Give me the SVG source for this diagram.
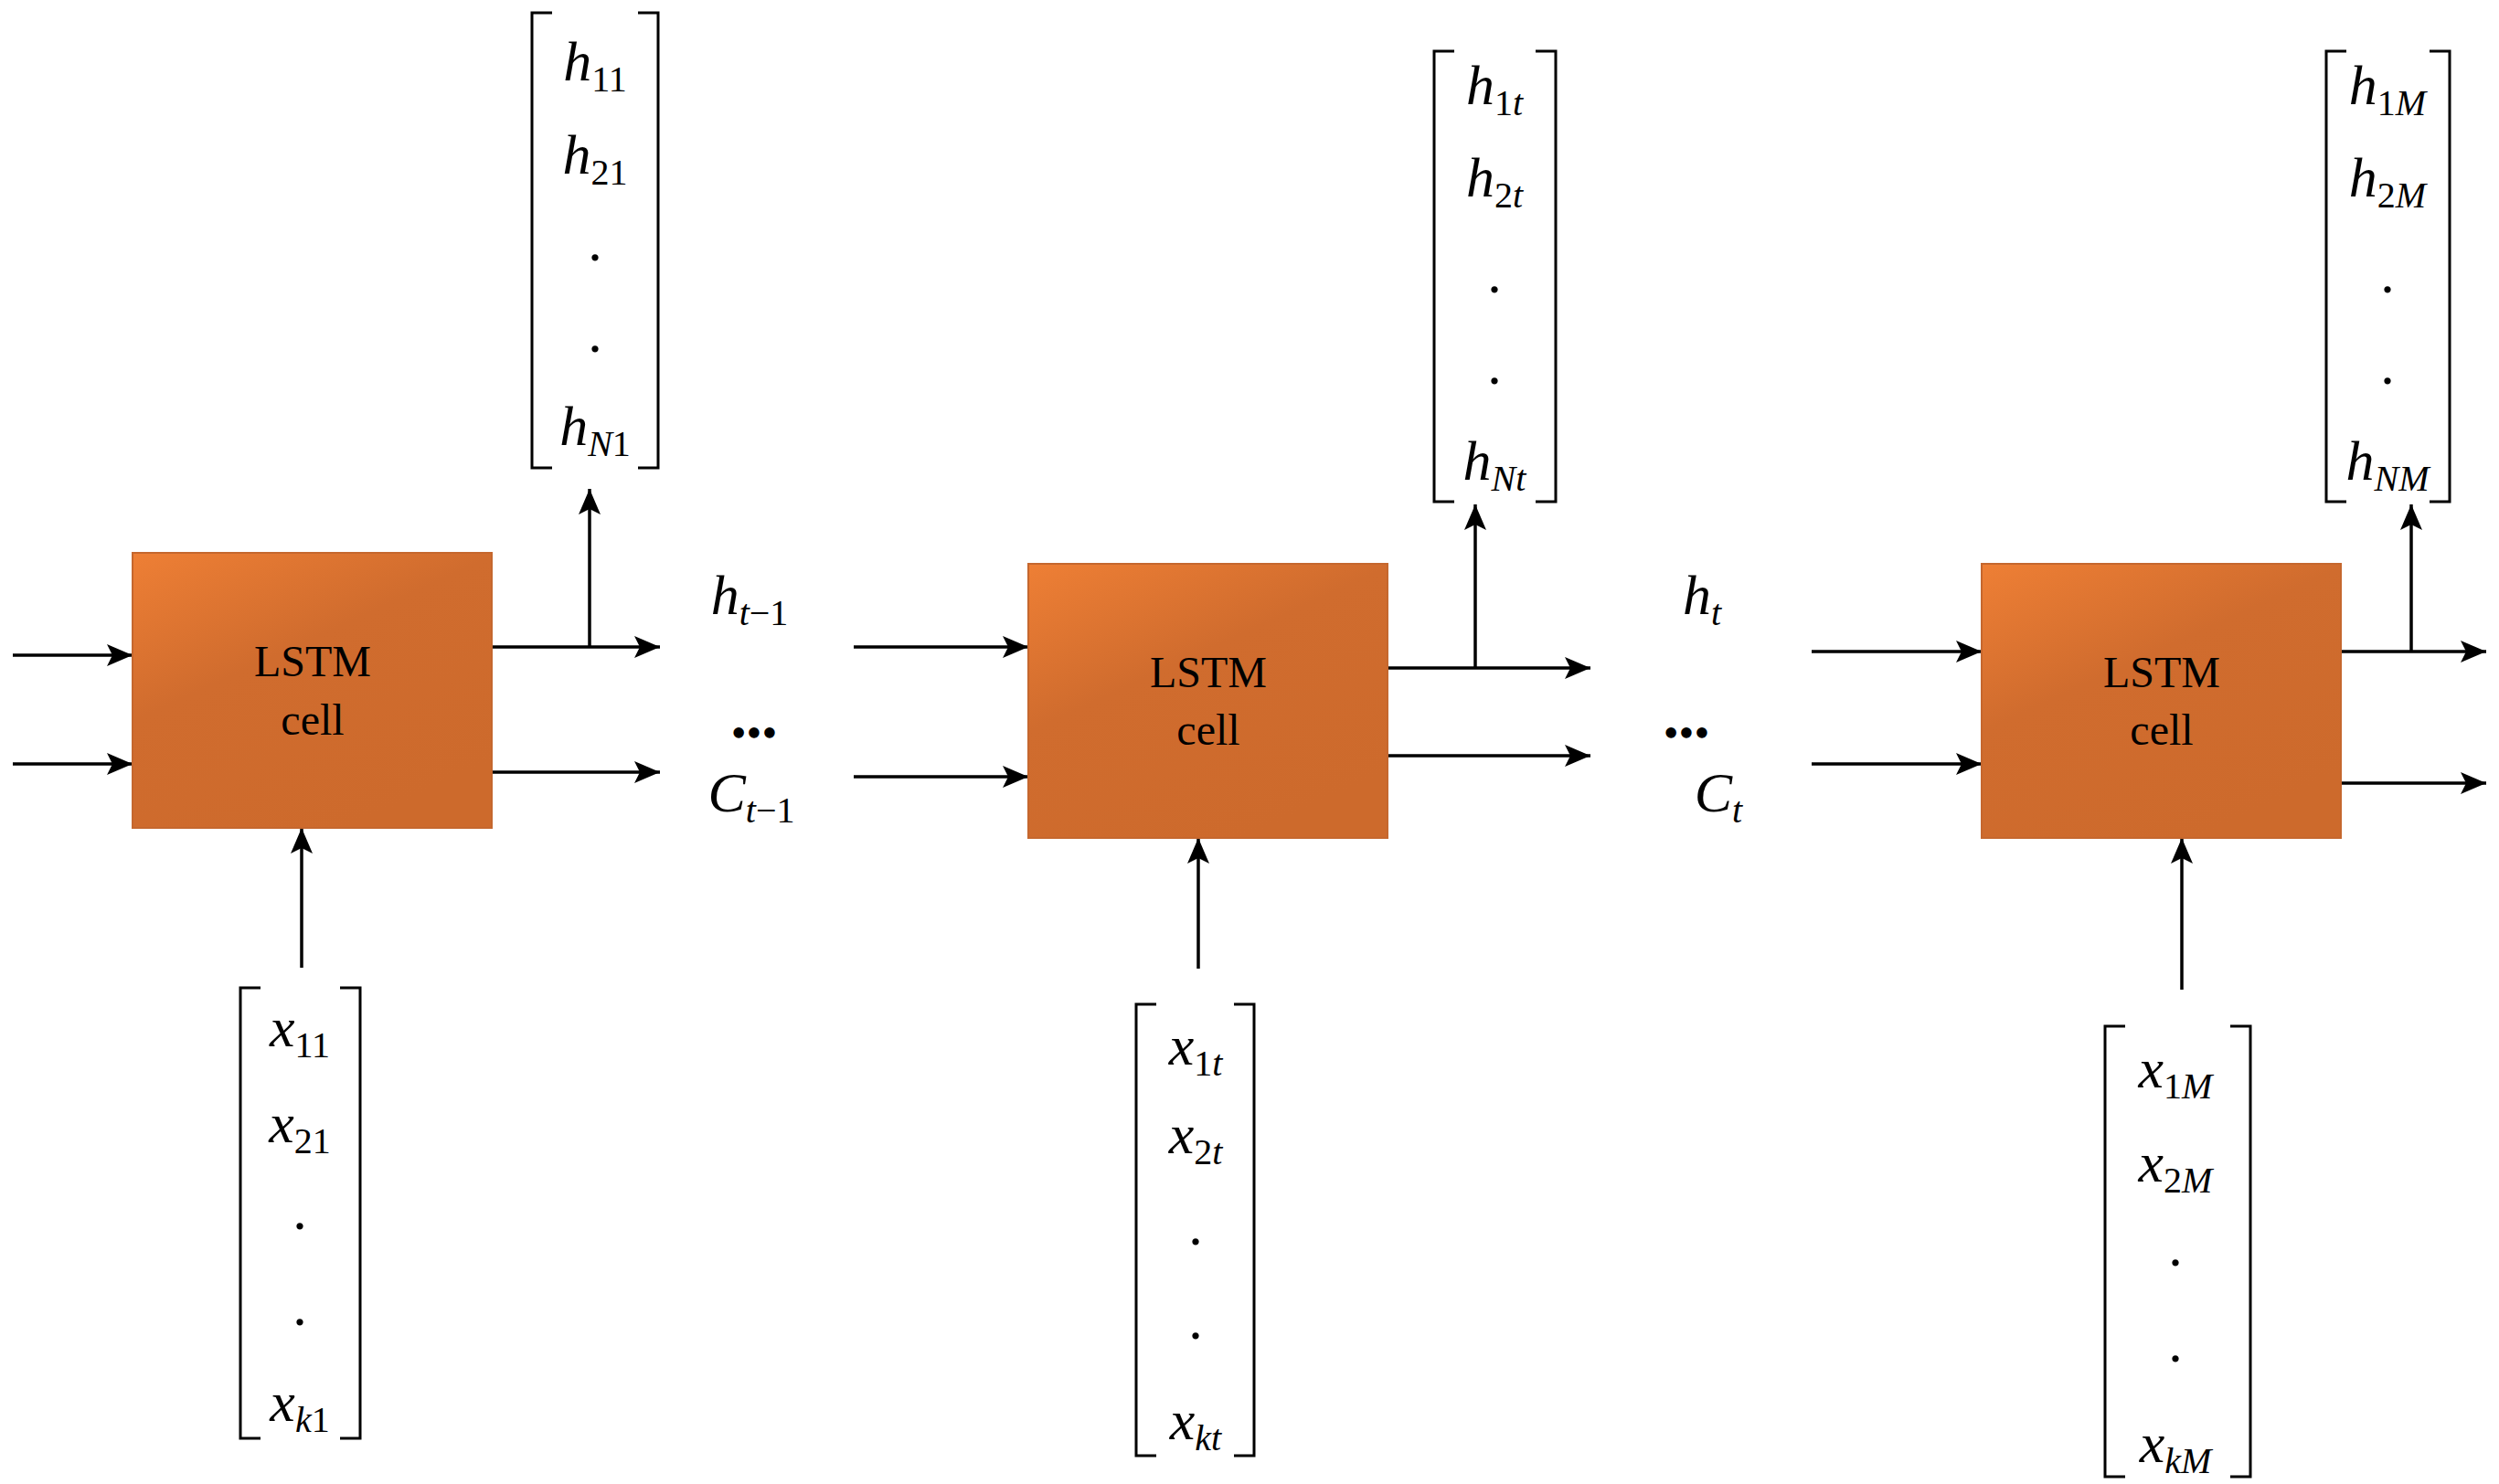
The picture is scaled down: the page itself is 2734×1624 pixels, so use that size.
<svg xmlns="http://www.w3.org/2000/svg" width="2734" height="1624" viewBox="0 0 2734 1624">
<style>
.ln{stroke:#000;stroke-width:3.5;fill:none}
.br{stroke:#000;stroke-width:3;fill:none}
.box{fill:url(#g);stroke:#C5672E;stroke-width:2}
.cell{font-family:"Liberation Serif",serif;font-size:48px;fill:#000;text-anchor:middle}
.m{font-family:"Liberation Serif",serif;font-size:62px;font-style:italic;fill:#000;text-anchor:middle}
.s{font-size:40px}
.n{font-style:normal}
.d{font-family:"Liberation Serif",serif;font-size:62px;fill:#000;text-anchor:middle}
</style>
<defs>
<linearGradient id="g" x1="0" y1="0" x2="0.6" y2="1">
<stop offset="0" stop-color="#EE7F35"/><stop offset="0.45" stop-color="#D06C2E"/><stop offset="1" stop-color="#CD6A2C"/>
</linearGradient>
<marker id="a" markerUnits="userSpaceOnUse" markerWidth="30" markerHeight="24" refX="28" refY="12" orient="auto"><path d="M0,0 L28,12 L0,24 L6,12 Z" fill="#000"/></marker>
</defs>
<g id="connectors">
<line class="ln" x1="14" y1="717" x2="145" y2="717" marker-end="url(#a)"/>
<line class="ln" x1="14" y1="836" x2="145" y2="836" marker-end="url(#a)"/>
<line class="ln" x1="538" y1="708" x2="722" y2="708" marker-end="url(#a)"/>
<line class="ln" x1="538" y1="845" x2="722" y2="845" marker-end="url(#a)"/>
<line class="ln" x1="645" y1="708" x2="645" y2="535" marker-end="url(#a)"/>
<line class="ln" x1="330" y1="1059" x2="330" y2="906" marker-end="url(#a)"/>
<line class="ln" x1="934" y1="708" x2="1125" y2="708" marker-end="url(#a)"/>
<line class="ln" x1="934" y1="850" x2="1125" y2="850" marker-end="url(#a)"/>
<line class="ln" x1="1518" y1="731" x2="1740" y2="731" marker-end="url(#a)"/>
<line class="ln" x1="1518" y1="827" x2="1740" y2="827" marker-end="url(#a)"/>
<line class="ln" x1="1614" y1="731" x2="1614" y2="552" marker-end="url(#a)"/>
<line class="ln" x1="1311" y1="1060" x2="1311" y2="917" marker-end="url(#a)"/>
<line class="ln" x1="1982" y1="713" x2="2168" y2="713" marker-end="url(#a)"/>
<line class="ln" x1="1982" y1="836" x2="2168" y2="836" marker-end="url(#a)"/>
<line class="ln" x1="2561" y1="713" x2="2720" y2="713" marker-end="url(#a)"/>
<line class="ln" x1="2561" y1="857" x2="2720" y2="857" marker-end="url(#a)"/>
<line class="ln" x1="2638" y1="713" x2="2638" y2="552" marker-end="url(#a)"/>
<line class="ln" x1="2387" y1="1083" x2="2387" y2="917" marker-end="url(#a)"/>
</g>
<g id="cell1"><rect class="box" x="145" y="605" width="393" height="301"/><text class="cell" x="342" y="740">LSTM</text><text class="cell" x="342" y="804">cell</text></g>
<g id="cell2"><rect class="box" x="1125" y="617" width="393" height="300"/><text class="cell" x="1322" y="752">LSTM</text><text class="cell" x="1322" y="815">cell</text></g>
<g id="cell3"><rect class="box" x="2168" y="617" width="393" height="300"/><text class="cell" x="2365" y="752">LSTM</text><text class="cell" x="2365" y="815">cell</text></g>
<g id="h1">
<path class="br" d="M604,14 H582 V512 H604 M698,14 H720 V512 H698"/>
<text class="m" x="651" y="88">h<tspan class="s n" dy="12">11</tspan></text>
<text class="m" x="651" y="190">h<tspan class="s n" dy="12">21</tspan></text>
<text class="d" x="651" y="285">.</text><text class="d" x="651" y="385">.</text>
<text class="m" x="651" y="487">h<tspan class="s" dy="12">N</tspan><tspan class="s n">1</tspan></text>
</g>
<g id="x1">
<path class="br" d="M285,1081 H263 V1574 H285 M372,1081 H394 V1574 H372"/>
<text class="m" x="328" y="1145">x<tspan class="s n" dy="12">11</tspan></text>
<text class="m" x="328" y="1250">x<tspan class="s n" dy="12">21</tspan></text>
<text class="d" x="328" y="1345">.</text><text class="d" x="328" y="1450">.</text>
<text class="m" x="328" y="1555">x<tspan class="s" dy="12">k</tspan><tspan class="s n">1</tspan></text>
</g>
<g id="h2">
<path class="br" d="M1591,56 H1569 V549 H1591 M1680,56 H1702 V549 H1680"/>
<text class="m" x="1635" y="114">h<tspan class="s n" dy="12">1</tspan><tspan class="s">t</tspan></text>
<text class="m" x="1635" y="215">h<tspan class="s n" dy="12">2</tspan><tspan class="s">t</tspan></text>
<text class="d" x="1635" y="320">.</text><text class="d" x="1635" y="420">.</text>
<text class="m" x="1635" y="525">h<tspan class="s" dy="12">Nt</tspan></text>
</g>
<g id="x2">
<path class="br" d="M1265,1099 H1243 V1593 H1265 M1350,1099 H1372 V1593 H1350"/>
<text class="m" x="1308" y="1165">x<tspan class="s n" dy="12">1</tspan><tspan class="s">t</tspan></text>
<text class="m" x="1308" y="1262">x<tspan class="s n" dy="12">2</tspan><tspan class="s">t</tspan></text>
<text class="d" x="1308" y="1362">.</text><text class="d" x="1308" y="1465">.</text>
<text class="m" x="1308" y="1575">x<tspan class="s" dy="12">kt</tspan></text>
</g>
<g id="h3">
<path class="br" d="M2567,56 H2545 V549 H2567 M2658,56 H2680 V549 H2658"/>
<text class="m" x="2612" y="114">h<tspan class="s n" dy="12">1</tspan><tspan class="s">M</tspan></text>
<text class="m" x="2612" y="215">h<tspan class="s n" dy="12">2</tspan><tspan class="s">M</tspan></text>
<text class="d" x="2612" y="320">.</text><text class="d" x="2612" y="420">.</text>
<text class="m" x="2612" y="525">h<tspan class="s" dy="12">NM</tspan></text>
</g>
<g id="x3">
<path class="br" d="M2325,1123 H2303 V1616 H2325 M2440,1123 H2462 V1616 H2440"/>
<text class="m" x="2380" y="1190">x<tspan class="s n" dy="12">1</tspan><tspan class="s">M</tspan></text>
<text class="m" x="2380" y="1293">x<tspan class="s n" dy="12">2</tspan><tspan class="s">M</tspan></text>
<text class="d" x="2380" y="1385">.</text><text class="d" x="2380" y="1490">.</text>
<text class="m" x="2380" y="1600">x<tspan class="s" dy="12">kM</tspan></text>
</g>
<g id="labels">
<text class="m" x="820" y="672">h<tspan class="s" dy="12">t</tspan><tspan class="s n">−1</tspan></text>
<text class="d" x="825" y="818" style="font-size:48px">•••</text>
<text class="m" x="822" y="888">C<tspan class="s" dy="12">t</tspan><tspan class="s n">−1</tspan></text>
<text class="m" x="1862" y="672">h<tspan class="s" dy="12">t</tspan></text>
<text class="d" x="1845" y="818" style="font-size:48px">•••</text>
<text class="m" x="1880" y="888">C<tspan class="s" dy="12">t</tspan></text>
</g>
</svg>
